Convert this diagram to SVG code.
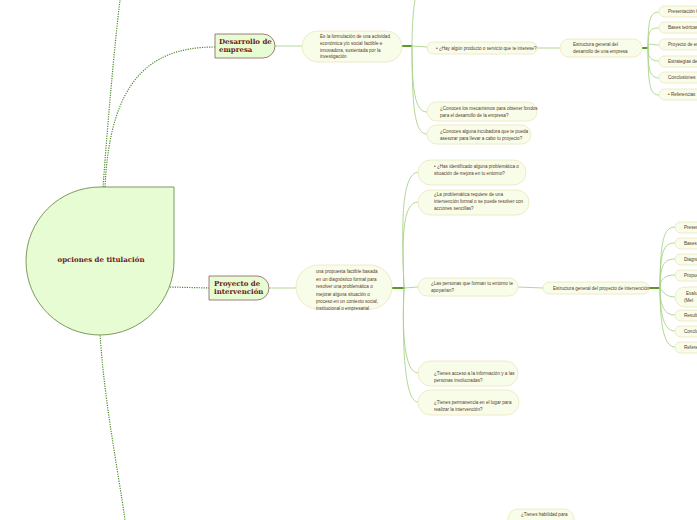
<svg xmlns="http://www.w3.org/2000/svg" width="697" height="520" viewBox="0 0 697 520">
<style>
.p{fill:#f7fde9;stroke:#efe3bd;stroke-width:0.8}
.m{fill:#e8fcd4;stroke:#8a5a5a;stroke-width:0.8}
.t{font-family:"Liberation Sans",sans-serif;font-size:4.6px;fill:#5a3a2a}
.h{font-family:"DejaVu Serif",serif;font-weight:bold;font-size:7px;fill:#6b1a1a}
.c{fill:none;stroke:#a8d38a;stroke-width:0.9}
.k{fill:none;stroke:#5a9a2a;stroke-width:2}
.d{fill:none;stroke:#4c8a2a;stroke-width:1.2;stroke-dasharray:1.2 1.2}
</style>
<g id="connectors">
<path class="d" d="M103,187 C108,120 114,50 120,0"/>
<path class="d" d="M105,187 C110,80 150,47 215,47"/>
<path class="d" d="M170,287 L209,288"/>
<path class="d" d="M100,333 C104,400 118,470 125,520"/>
<path class="c" d="M275,46 L302,46"/>
<path class="k" d="M402,46 L412,46"/>
<path class="c" d="M412,46 C412,30 413,10 415,0"/>
<path class="c" d="M412,46 L427,47"/>
<path class="c" d="M412,46 C412,90 415,112 427,112"/>
<path class="c" d="M412,46 C412,110 415,134 427,134"/>
<path class="c" d="M537,48 L560,48"/>
<path class="k" d="M642,48 L648,48"/>
<path class="c" d="M648,48 C648,20 650,12 659,12"/>
<path class="c" d="M648,48 C648,30 650,28 659,28"/>
<path class="c" d="M648,48 C648,42 650,45 659,45"/>
<path class="c" d="M648,48 C648,56 650,61 659,61"/>
<path class="c" d="M648,48 C648,70 650,78 659,78"/>
<path class="c" d="M648,48 C648,85 650,95 659,95"/>
<path class="c" d="M269,288 L296,288"/>
<path class="k" d="M392,288 L405,288"/>
<path class="c" d="M404,288 C402,230 400,175 418,172"/>
<path class="c" d="M404,288 C402,240 402,202 418,202"/>
<path class="c" d="M404,288 L418,287"/>
<path class="c" d="M404,288 C402,330 404,373 418,373"/>
<path class="c" d="M404,288 C402,340 404,402 418,402"/>
<path class="c" d="M518,287 L543,288"/>
<path class="k" d="M649,288 L660,288"/>
<path class="c" d="M660,288 C660,240 664,227 675,227"/>
<path class="c" d="M660,288 C660,250 664,243 675,243"/>
<path class="c" d="M660,288 C660,265 664,259 675,259"/>
<path class="c" d="M660,288 C660,280 664,275 675,275"/>
<path class="c" d="M660,288 C663,292 666,297 675,297"/>
<path class="c" d="M660,288 C660,305 664,315 675,315"/>
<path class="c" d="M660,288 C660,315 664,331 675,331"/>
<path class="c" d="M660,288 C660,325 664,347 675,347"/>
</g>
<g id="root">
<path d="M100,187 H174 V260 A74,74 0 1 1 100,187 Z" fill="#e8fcd4" stroke="#6f8f4f" stroke-width="0.9"/>
<text class="h" x="101" y="262" text-anchor="middle">opciones de titulación</text>
</g>
<g id="desarrollo">
<path class="m" d="M215,34 H263 A12,12 0 0 1 263,58 H215 Z"/>
<text class="h" x="219" y="44">Desarrollo de</text><text class="h" x="219" y="52">empresa</text>
</g>
<g id="desc1"><rect class="p" x="302" y="31" width="100" height="31" rx="15.5"/>
<text class="t"><tspan x="320" y="38">Es la formulación de una actividad</tspan><tspan x="320" y="45">económica y/o social factible e</tspan><tspan x="320" y="51.5">innovadora, sustentada por la</tspan><tspan x="320" y="58">investigación</tspan></text></g>
<g id="q-producto"><rect class="p" x="427" y="42" width="110" height="12" rx="6"/><text class="t" x="436" y="49.5">• ¿Hay algún producto o servicio que te interese?</text></g>
<g id="q-fondos"><rect class="p" x="427" y="102" width="110" height="19" rx="9.5"/><text class="t"><tspan x="440" y="110">¿Conoces los mecanismos para obtener fondos</tspan><tspan x="440" y="117">para el desarrollo de la empresa?</tspan></text></g>
<g id="q-incubadora"><rect class="p" x="427" y="125" width="104" height="19" rx="9.5"/><text class="t"><tspan x="440" y="133">¿Conoces alguna incubadora que te pueda</tspan><tspan x="440" y="140">asesorar para llevar a cabo tu proyecto?</tspan></text></g>
<g id="estructura1"><rect class="p" x="560" y="39" width="82" height="18" rx="9"/><text class="t"><tspan x="573" y="46">Estructura general del</tspan><tspan x="573" y="53">desarrollo de una empresa</tspan></text></g>
<g id="e1-items">
<rect class="p" x="659" y="6" width="50" height="11" rx="5.5"/><text class="t" x="668" y="13">Presentación CP</text>
<rect class="p" x="659" y="22" width="50" height="11" rx="5.5"/><text class="t" x="668" y="29">Bases teóricas</text>
<rect class="p" x="659" y="39" width="50" height="11" rx="5.5"/><text class="t" x="668" y="46">Proyecto de em</text>
<rect class="p" x="659" y="56" width="50" height="11" rx="5.5"/><text class="t" x="668" y="63">Estrategias de im</text>
<rect class="p" x="659" y="72" width="50" height="11" rx="5.5"/><text class="t" x="668" y="79">Conclusiones</text>
<rect class="p" x="659" y="89" width="50" height="11" rx="5.5"/><text class="t" x="668" y="96">• Referencias</text>
</g>
<g id="proyecto">
<path class="m" d="M209,276 H257 A12,12 0 0 1 257,300 H209 Z"/>
<text class="h" x="214" y="286">Proyecto de</text><text class="h" x="214" y="294">intervención</text>
</g>
<g id="desc2"><rect class="p" x="296" y="265" width="96" height="44" rx="22"/>
<text class="t"><tspan x="316" y="273">una propuesta factible basada</tspan><tspan x="316" y="280.5">en un diagnóstico formal para</tspan><tspan x="316" y="288">resolver una problemática o</tspan><tspan x="316" y="295.5">mejorar alguna situación o</tspan><tspan x="316" y="303">proceso en un contexto social,</tspan><tspan x="316" y="310">institucional o empresarial</tspan></text></g>
<g id="q-identificado"><rect class="p" x="418" y="160" width="108" height="25" rx="12.5"/><text class="t"><tspan x="434" y="168">• ¿Has identificado alguna problemática o</tspan><tspan x="434" y="175">situación de mejora en tu entorno?</tspan></text></g>
<g id="q-requiere"><rect class="p" x="418" y="190" width="111" height="25" rx="12.5"/><text class="t"><tspan x="434" y="196">¿La problemática requiere de una</tspan><tspan x="434" y="203">intervención formal o se puede resolver con</tspan><tspan x="434" y="210">acciones sencillas?</tspan></text></g>
<g id="q-apoyarian"><rect class="p" x="418" y="278" width="100" height="18" rx="9"/><text class="t"><tspan x="431" y="285">¿Las personas que forman tu entorno te</tspan><tspan x="431" y="292">apoyarían?</tspan></text></g>
<g id="q-acceso"><rect class="p" x="418" y="361" width="100" height="25" rx="12.5"/><text class="t"><tspan x="434" y="375">¿Tienes acceso a la información y a las</tspan><tspan x="434" y="382">personas involucradas?</tspan></text></g>
<g id="q-permanencia"><rect class="p" x="418" y="390" width="101" height="25" rx="12.5"/><text class="t"><tspan x="434" y="404">¿Tienes permanencia en el lugar para</tspan><tspan x="434" y="411">realizar la intervención?</tspan></text></g>
<g id="estructura2"><rect class="p" x="543" y="282" width="106" height="12" rx="6"/><text class="t" x="553" y="289.5">Estructura general del proyecto de intervención</text></g>
<g id="e2-items">
<rect class="p" x="675" y="222" width="40" height="11" rx="5.5"/><text class="t" x="684" y="229">Present</text>
<rect class="p" x="675" y="238" width="40" height="11" rx="5.5"/><text class="t" x="684" y="245">Bases t</text>
<rect class="p" x="675" y="254" width="40" height="11" rx="5.5"/><text class="t" x="684" y="261">Diagnó</text>
<rect class="p" x="675" y="270" width="40" height="11" rx="5.5"/><text class="t" x="684" y="277">Propue</text>
<rect class="p" x="675" y="287" width="40" height="20" rx="10"/><text class="t"><tspan x="686" y="295">Evalu</tspan><tspan x="684" y="302">(Met</tspan></text>
<rect class="p" x="675" y="310" width="40" height="11" rx="5.5"/><text class="t" x="684" y="317">Resulta</text>
<rect class="p" x="675" y="326" width="40" height="11" rx="5.5"/><text class="t" x="684" y="333">Conclu</text>
<rect class="p" x="675" y="342" width="40" height="11" rx="5.5"/><text class="t" x="684" y="349">Referen</text>
</g>
<g id="q-habilidad"><rect class="p" x="508" y="509" width="66" height="20" rx="10"/><text class="t" x="521" y="516">¿Tienes habilidad para</text></g>
</svg>
